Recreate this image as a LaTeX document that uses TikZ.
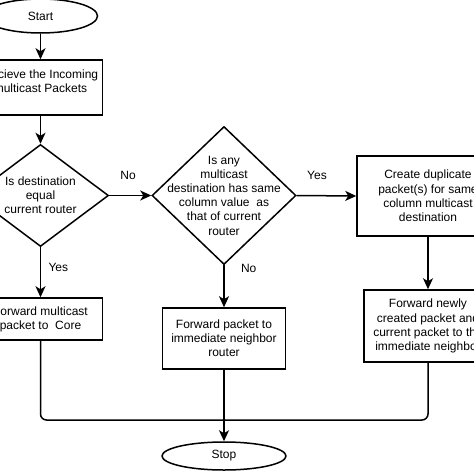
\documentclass[tikz,border=0pt]{standalone}
\usepackage{fontspec}
\setmainfont{Liberation Sans}
\usetikzlibrary{shapes.geometric}
\usetikzlibrary{arrows.meta}
\usetikzlibrary{positioning}
\usetikzlibrary{math}

\begin{document}
\begin{tikzpicture}[x=1pt,y=-1pt,line width=1.5pt,
  font=\fontsize{12}{14.2}\selectfont,
  every node/.style={align=center},
  terminal/.style={draw,ellipse,inner sep=0pt},
  process/.style={draw,rectangle,inner sep=0pt},
  decision/.style={draw,diamond,inner sep=0pt},
  flow/.style={-{Stealth[length=11pt,width=10pt,inset=3pt]}}]

  \tikzmath{
    \mergey = 420;  % height of the line joining the branches
    \colA   = 40.5; % left column
    \colB   = 224;  % middle column
    \colC   = 428;  % right column
  }

  % picture is a crop of a larger chart
  \useasboundingbox (0,0) rectangle (474,474);
  \clip (0,0) rectangle (474,474);

  % terminals
  \node[terminal, minimum width=114, minimum height=34] (start) at (\colA, 16) {Start};
  \node[terminal, minimum width=124, minimum height=28] (stop) at (\colB, 456) {Stop};

  % left column
  \node[process, minimum width=124, minimum height=55, text depth=12pt] (recv) at (\colA, 87.5)
  {Recieve the Incoming\\multicast Packets};
  \node[decision, minimum width=136, minimum height=102,
    label={center:Is destination\\equal\\current router}] (isdest) at (\colA, 195.5) {};
  \node[process, minimum width=124, minimum height=42] (fwdcore) at (\colA, 319)
  {Forward multicast\\packet to\ \ Core};

  % middle column
  \node[decision, minimum width=144, minimum height=138,
    label={center:Is any\\multicast\\destination has same\\column value\ \ as\\that of current\\router}]
  (samecol) at (\colB, 195.5) {};
  \node[process, minimum width=123, minimum height=61] (fwdnbr) at (\colB, 338.5)
  {Forward packet to\\immediate neighbor\\router};

  % right column
  \node[process, minimum width=142, minimum height=80] (dup) at (\colC, 196)
  {Create duplicate\\packet(s) for same\\column multicast\\destination};
  \node[process, minimum width=128, minimum height=72] (fwdnew) at (\colC, 326)
  {Forward newly\\created packet and\\current packet to the\\immediate neighbor};

  % connectors
  \draw[flow] (start) -- (recv);
  \draw[flow] (recv) -- (isdest);
  \draw[flow] (isdest.east) -- (samecol.west)
  node[pos=0.45, above=12pt] {No};
  \draw[flow] (isdest.south) -- (fwdcore.north)
  node[pos=0.4, right=4pt] {Yes};
  \draw[flow] (samecol.east) -- (dup.west)
  node[pos=0.34, above=12pt] {Yes};
  \draw[flow] (samecol.south) -- (fwdnbr.north)
  node[pos=0.07, right=13pt] {No};
  \draw[flow] (dup) -- (fwdnew);
  \draw[flow] (fwdnbr) -- (stop);

  % branches joining above stop
  \coordinate (merge) at (\colB, \mergey);
  \draw[rounded corners=6pt] (fwdcore.south) |- (merge) -| (fwdnew.south);

\end{tikzpicture}
\end{document}
